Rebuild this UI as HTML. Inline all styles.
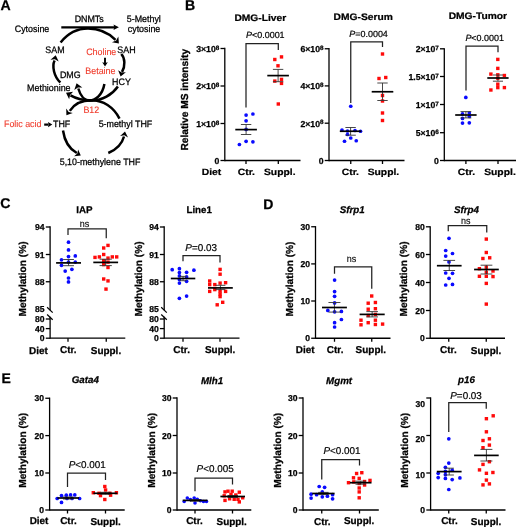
<!DOCTYPE html>
<html><head><meta charset="utf-8"><style>
html,body{margin:0;padding:0;background:#fff;}
svg{display:block;font-family:"Liberation Sans", sans-serif;filter:blur(0.3px);}
text{text-rendering:geometricPrecision;}
</style></head><body>
<svg width="520" height="527" viewBox="0 0 520 527">
<rect width="520" height="527" fill="#fff"/>
<text id="xLA" transform="translate(0.5 10.2)" text-anchor="start" fill="#000" style="font-size:14.1px;font-weight:bold;stroke:#000;stroke-width:0.25px;">A</text>
<text id="xLB" transform="translate(185.1 10.4)" text-anchor="start" fill="#000" style="font-size:14.1px;font-weight:bold;stroke:#000;stroke-width:0.25px;">B</text>
<text id="xLC" transform="translate(0.2 208.0)" text-anchor="start" fill="#000" style="font-size:14.1px;font-weight:bold;stroke:#000;stroke-width:0.25px;">C</text>
<text id="xLD" transform="translate(263.2 208.5)" text-anchor="start" fill="#000" style="font-size:14.0px;font-weight:bold;stroke:#000;stroke-width:0.25px;">D</text>
<text id="xLE" transform="translate(1.5 382.7)" text-anchor="start" fill="#000" style="font-size:14.0px;font-weight:bold;stroke:#000;stroke-width:0.25px;">E</text>
<text id="a_cyt" transform="translate(14.77 31.76) scale(1 1.06)" text-anchor="start" fill="#000" style="font-size:8.9px;font-weight:normal;stroke:#000;stroke-width:0.25px;">Cytosine</text>
<text id="a_dnmt" transform="translate(74.66 22.23) scale(1 1.06)" text-anchor="start" fill="#000" style="font-size:8.9px;font-weight:normal;stroke:#000;stroke-width:0.25px;">DNMTs</text>
<text id="a_5m" transform="translate(126.81 21.94) scale(1 1.06)" text-anchor="start" fill="#000" style="font-size:8.9px;font-weight:normal;stroke:#000;stroke-width:0.25px;">5-Methyl</text>
<text id="a_cyt2" transform="translate(127.75 32.26) scale(1 1.06)" text-anchor="start" fill="#000" style="font-size:8.9px;font-weight:normal;stroke:#000;stroke-width:0.25px;">cytosine</text>
<text id="a_sam" transform="translate(45.29 52.56) scale(1 1.06)" text-anchor="start" fill="#000" style="font-size:8.9px;font-weight:normal;stroke:#000;stroke-width:0.25px;">SAM</text>
<text id="a_sah" transform="translate(117.33 52.79) scale(1 1.06)" text-anchor="start" fill="#000" style="font-size:8.9px;font-weight:normal;stroke:#000;stroke-width:0.25px;">SAH</text>
<text id="a_chol" transform="translate(86.17 54.59) scale(1 1.06)" text-anchor="start" fill="#f03a2a" style="font-size:8.9px;font-weight:normal;stroke:#f03a2a;stroke-width:0.1px;">Choline</text>
<text id="a_bet" transform="translate(85.32 73.9) scale(1 1.06)" text-anchor="start" fill="#f03a2a" style="font-size:8.9px;font-weight:normal;stroke:#f03a2a;stroke-width:0.1px;">Betaine</text>
<text id="a_dmg" transform="translate(59.91 77.8) scale(1 1.06)" text-anchor="start" fill="#000" style="font-size:8.9px;font-weight:normal;stroke:#000;stroke-width:0.25px;">DMG</text>
<text id="a_hcy" transform="translate(112.08 84.59) scale(1 1.06)" text-anchor="start" fill="#000" style="font-size:8.9px;font-weight:normal;stroke:#000;stroke-width:0.25px;">HCY</text>
<text id="a_met" transform="translate(27.12 91.05) scale(1 1.06)" text-anchor="start" fill="#000" style="font-size:8.9px;font-weight:normal;stroke:#000;stroke-width:0.25px;">Methionine</text>
<text id="a_b12" transform="translate(83.39 112.6) scale(1 1.06)" text-anchor="start" fill="#f03a2a" style="font-size:8.9px;font-weight:normal;stroke:#f03a2a;stroke-width:0.1px;">B12</text>
<text id="a_fol" transform="translate(3.98 127.38) scale(1 1.06)" text-anchor="start" fill="#f03a2a" style="font-size:8.9px;font-weight:normal;stroke:#f03a2a;stroke-width:0.1px;">Folic acid</text>
<text id="a_thf" transform="translate(53.0 127.23) scale(1 1.06)" text-anchor="start" fill="#000" style="font-size:8.9px;font-weight:normal;stroke:#000;stroke-width:0.25px;">THF</text>
<text id="a_5mthf" transform="translate(98.64 127.41) scale(1 1.06)" text-anchor="start" fill="#000" style="font-size:8.9px;font-weight:normal;stroke:#000;stroke-width:0.25px;">5-methyl THF</text>
<text id="a_510" transform="translate(59.7 165.47) scale(1 1.06)" text-anchor="start" fill="#000" style="font-size:8.9px;font-weight:normal;stroke:#000;stroke-width:0.25px;">5,10-methylene THF</text>
<line x1="61.3" y1="27.3" x2="115" y2="27.3" stroke="#000" stroke-width="2.3"/>
<polygon points="118.90,27.30 113.50,30.10 114.30,27.30 113.50,24.50" fill="#000"/>
<path d="M60.6 42.5 C67 34.5 77 28.6 88 28.6 C100 28.6 109 33.5 115.5 39.8" stroke="#000" stroke-width="2.5" fill="none" />
<polygon points="118.90,43.60 111.96,42.32 116.16,40.55 118.35,36.56" fill="#000"/>
<path d="M121.3 54 C125 58 125.5 66 122 72" stroke="#000" stroke-width="2.5" fill="none" />
<polygon points="120.60,76.40 118.13,70.15 121.64,72.54 125.86,72.22" fill="#000"/>
<path d="M60.4 82.5 C54 77 51.8 66 54.6 60.5" stroke="#000" stroke-width="2.5" fill="none" />
<polygon points="55.70,55.30 58.69,61.46 54.87,59.21 50.47,59.71" fill="#000"/>
<line x1="105" y1="57.7" x2="105" y2="63" stroke="#000" stroke-width="1.9"/>
<polygon points="105.00,66.60 102.20,62.30 105.00,62.90 107.80,62.30" fill="#000"/>
<path d="M104.4 84 C102.5 95 95.5 100.4 89.5 100.4 C84 100.4 80.5 96 78.3 88.5" stroke="#000" stroke-width="2.5" fill="none" />
<polygon points="76.60,83.20 82.31,87.52 77.94,87.60 74.28,89.97" fill="#000"/>
<path d="M117.9 86.5 C112 95 102 100.4 92 100.4 C83 100.4 76 98.5 70.5 95.3" stroke="#000" stroke-width="2.5" fill="none" />
<polygon points="66.00,92.80 73.09,91.81 70.06,94.96 69.15,99.23" fill="#000"/>
<path d="M119.5 118.6 C113.5 107 103 100.2 91.5 100.2 C81 100.2 73.5 105 69.8 110.8" stroke="#000" stroke-width="2.5" fill="none" />
<polygon points="66.40,115.20 66.22,108.48 68.69,111.92 72.77,113.07" fill="#000"/>
<line x1="44.2" y1="124.6" x2="48.5" y2="124.6" stroke="#000" stroke-width="2.2"/>
<polygon points="52.30,124.60 48.00,127.30 48.60,124.60 48.00,121.90" fill="#000"/>
<path d="M63 130.5 C64.5 141 69.5 149 76.8 153" stroke="#000" stroke-width="2.5" fill="none" />
<polygon points="80.80,155.60 74.12,156.36 77.34,153.60 78.12,149.44" fill="#000"/>
<path d="M108.3 153 C115.5 150 122 144 124 136.5" stroke="#000" stroke-width="2.5" fill="none" />
<polygon points="125.00,131.40 128.00,137.41 124.31,135.34 120.12,136.02" fill="#000"/>
<text id="t_liver" transform="translate(260.32 20.58) scale(1 0.92)" text-anchor="middle" fill="#000" style="font-size:10.25px;font-weight:bold;stroke:#000;stroke-width:0.25px;">DMG-Liver</text>
<text id="t_serum" transform="translate(363.16 20.34) scale(1 0.92)" text-anchor="middle" fill="#000" style="font-size:10.25px;font-weight:bold;stroke:#000;stroke-width:0.25px;">DMG-Serum</text>
<text id="t_tumor" transform="translate(477.88 19.44) scale(1 0.92)" text-anchor="middle" fill="#000" style="font-size:10.25px;font-weight:bold;stroke:#000;stroke-width:0.25px;">DMG-Tumor</text>
<text id="y_rel" transform="translate(188.38 99.76) rotate(-90)" text-anchor="middle" fill="#000" style="font-size:10.17px;font-weight:bold;stroke:#000;stroke-width:0.3px;">Relative MS intensity</text>
<text id="dietB" transform="translate(201.68 174.93) scale(1 0.88)" text-anchor="start" fill="#000" style="font-size:10.35px;font-weight:bold;stroke:#000;stroke-width:0.25px;">Diet</text>
<line x1="224.8" y1="47.85" x2="224.8" y2="161.15" stroke="#000" stroke-width="1.3"/>
<line x1="220.5" y1="48.5" x2="224.8" y2="48.5" stroke="#000" stroke-width="1.3"/>
<text id="auto26" transform="translate(219.3 51.8)" text-anchor="end" fill="#000" style="font-size:8.7px;font-weight:bold;stroke:#000;stroke-width:0.25px;">3×10<tspan dy="-2.2" style="font-size:6.3px">8</tspan></text>
<line x1="220.5" y1="86" x2="224.8" y2="86" stroke="#000" stroke-width="1.3"/>
<text id="auto27" transform="translate(219.3 89.3)" text-anchor="end" fill="#000" style="font-size:8.7px;font-weight:bold;stroke:#000;stroke-width:0.25px;">2×10<tspan dy="-2.2" style="font-size:6.3px">8</tspan></text>
<line x1="220.5" y1="123.5" x2="224.8" y2="123.5" stroke="#000" stroke-width="1.3"/>
<text id="auto28" transform="translate(219.3 126.8)" text-anchor="end" fill="#000" style="font-size:8.7px;font-weight:bold;stroke:#000;stroke-width:0.25px;">1×10<tspan dy="-2.2" style="font-size:6.3px">8</tspan></text>
<line x1="220.5" y1="160.5" x2="224.8" y2="160.5" stroke="#000" stroke-width="1.3"/>
<text id="auto29" transform="translate(219.3 163.8)" text-anchor="end" fill="#000" style="font-size:8.7px;font-weight:bold;stroke:#000;stroke-width:0.25px;">0</text>
<line x1="224.8" y1="160.5" x2="300.5" y2="160.5" stroke="#000" stroke-width="1.3"/>
<line x1="246" y1="160.5" x2="246" y2="164.0" stroke="#000" stroke-width="1.3"/>
<line x1="278.3" y1="160.5" x2="278.3" y2="164.0" stroke="#000" stroke-width="1.3"/>
<text id="cl_liver_c" transform="translate(246.38 174.6) scale(1 0.88)" text-anchor="middle" fill="#000" style="font-size:10.35px;font-weight:bold;stroke:#000;stroke-width:0.25px;">Ctr.</text>
<text id="cl_liver_s" transform="translate(279.71 175.11) scale(1 0.88)" text-anchor="middle" fill="#000" style="font-size:10.35px;font-weight:bold;stroke:#000;stroke-width:0.25px;">Suppl.</text>
<path d="M246 107.5 V43.7 H278.3 V50" stroke="#222" stroke-width="1.25" fill="none" />
<text id="p_liver" transform="translate(265.31 38.22)" text-anchor="middle" fill="#000" style="font-size:8.95px;font-weight:normal;stroke:#000;stroke-width:0.2px;"><tspan style="font-style:italic">P</tspan>&lt;0.0001</text>
<circle cx="246.1" cy="115.1" r="1.85" fill="#0a0aff"/>
<circle cx="252.9" cy="114" r="1.85" fill="#0a0aff"/>
<circle cx="246.1" cy="120.8" r="1.85" fill="#0a0aff"/>
<circle cx="246.1" cy="129.4" r="1.85" fill="#0a0aff"/>
<circle cx="239.4" cy="144.5" r="1.85" fill="#0a0aff"/>
<circle cx="246.1" cy="141.3" r="1.85" fill="#0a0aff"/>
<circle cx="252.9" cy="141.8" r="1.85" fill="#0a0aff"/>
<line x1="246.1" y1="124.5" x2="246.1" y2="134.5" stroke="#333" stroke-width="0.9"/>
<line x1="240.9" y1="124.5" x2="251.29999999999998" y2="124.5" stroke="#333" stroke-width="0.9"/>
<line x1="240.9" y1="134.5" x2="251.29999999999998" y2="134.5" stroke="#333" stroke-width="0.9"/>
<line x1="235.29999999999998" y1="129.6" x2="256.9" y2="129.6" stroke="#000" stroke-width="1.7"/>
<rect x="273.10" y="57.80" width="3.4" height="3.4" fill="#ff0a0a"/>
<rect x="279.80" y="55.20" width="3.4" height="3.4" fill="#ff0a0a"/>
<rect x="276.30" y="64.10" width="3.4" height="3.4" fill="#ff0a0a"/>
<rect x="273.10" y="79.40" width="3.4" height="3.4" fill="#ff0a0a"/>
<rect x="279.80" y="77.70" width="3.4" height="3.4" fill="#ff0a0a"/>
<rect x="279.80" y="81.70" width="3.4" height="3.4" fill="#ff0a0a"/>
<rect x="276.60" y="102.30" width="3.4" height="3.4" fill="#ff0a0a"/>
<line x1="278.1" y1="69.4" x2="278.1" y2="81.7" stroke="#333" stroke-width="0.9"/>
<line x1="272.90000000000003" y1="69.4" x2="283.3" y2="69.4" stroke="#333" stroke-width="0.9"/>
<line x1="272.90000000000003" y1="81.7" x2="283.3" y2="81.7" stroke="#333" stroke-width="0.9"/>
<line x1="267.3" y1="75.6" x2="288.90000000000003" y2="75.6" stroke="#000" stroke-width="1.7"/>
<line x1="329" y1="48.1" x2="329" y2="161.15" stroke="#000" stroke-width="1.3"/>
<line x1="324.7" y1="48.75" x2="329" y2="48.75" stroke="#000" stroke-width="1.3"/>
<text id="auto33" transform="translate(323.5 52.05)" text-anchor="end" fill="#000" style="font-size:8.7px;font-weight:bold;stroke:#000;stroke-width:0.25px;">6×10<tspan dy="-2.2" style="font-size:6.3px">8</tspan></text>
<line x1="324.7" y1="85.9" x2="329" y2="85.9" stroke="#000" stroke-width="1.3"/>
<text id="auto34" transform="translate(323.5 89.2)" text-anchor="end" fill="#000" style="font-size:8.7px;font-weight:bold;stroke:#000;stroke-width:0.25px;">4×10<tspan dy="-2.2" style="font-size:6.3px">8</tspan></text>
<line x1="324.7" y1="123.2" x2="329" y2="123.2" stroke="#000" stroke-width="1.3"/>
<text id="auto35" transform="translate(323.5 126.5)" text-anchor="end" fill="#000" style="font-size:8.7px;font-weight:bold;stroke:#000;stroke-width:0.25px;">2×10<tspan dy="-2.2" style="font-size:6.3px">8</tspan></text>
<line x1="324.7" y1="160.5" x2="329" y2="160.5" stroke="#000" stroke-width="1.3"/>
<text id="auto36" transform="translate(323.5 163.8)" text-anchor="end" fill="#000" style="font-size:8.7px;font-weight:bold;stroke:#000;stroke-width:0.25px;">0</text>
<line x1="329" y1="160.5" x2="404.5" y2="160.5" stroke="#000" stroke-width="1.3"/>
<line x1="350.75" y1="160.5" x2="350.75" y2="164.0" stroke="#000" stroke-width="1.3"/>
<line x1="382.5" y1="160.5" x2="382.5" y2="164.0" stroke="#000" stroke-width="1.3"/>
<text id="cl_serum_c" transform="translate(350.36 174.6) scale(1 0.88)" text-anchor="middle" fill="#000" style="font-size:10.35px;font-weight:bold;stroke:#000;stroke-width:0.25px;">Ctr.</text>
<text id="cl_serum_s" transform="translate(383.44 175.24) scale(1 0.88)" text-anchor="middle" fill="#000" style="font-size:10.35px;font-weight:bold;stroke:#000;stroke-width:0.25px;">Suppl.</text>
<path d="M350.75 103 V41.75 H382.5 V47" stroke="#222" stroke-width="1.25" fill="none" />
<text id="p_serum" transform="translate(368.56 37.14)" text-anchor="middle" fill="#000" style="font-size:8.95px;font-weight:normal;stroke:#000;stroke-width:0.2px;"><tspan style="font-style:italic">P</tspan>=0.0004</text>
<circle cx="350.75" cy="106.25" r="1.85" fill="#0a0aff"/>
<circle cx="342" cy="130" r="1.85" fill="#0a0aff"/>
<circle cx="347.5" cy="131" r="1.85" fill="#0a0aff"/>
<circle cx="355" cy="130.5" r="1.85" fill="#0a0aff"/>
<circle cx="360.5" cy="131.25" r="1.85" fill="#0a0aff"/>
<circle cx="347.5" cy="134.5" r="1.85" fill="#0a0aff"/>
<circle cx="350.75" cy="138" r="1.85" fill="#0a0aff"/>
<circle cx="344.5" cy="141.25" r="1.85" fill="#0a0aff"/>
<circle cx="356.25" cy="140.75" r="1.85" fill="#0a0aff"/>
<line x1="350.6" y1="127.5" x2="350.6" y2="135.2" stroke="#333" stroke-width="0.9"/>
<line x1="345.40000000000003" y1="127.5" x2="355.8" y2="127.5" stroke="#333" stroke-width="0.9"/>
<line x1="345.40000000000003" y1="135.2" x2="355.8" y2="135.2" stroke="#333" stroke-width="0.9"/>
<line x1="339.8" y1="131.25" x2="361.40000000000003" y2="131.25" stroke="#000" stroke-width="1.7"/>
<rect x="380.80" y="52.30" width="3.4" height="3.4" fill="#ff0a0a"/>
<rect x="377.30" y="76.80" width="3.4" height="3.4" fill="#ff0a0a"/>
<rect x="384.05" y="75.80" width="3.4" height="3.4" fill="#ff0a0a"/>
<rect x="380.80" y="93.80" width="3.4" height="3.4" fill="#ff0a0a"/>
<rect x="380.80" y="99.30" width="3.4" height="3.4" fill="#ff0a0a"/>
<rect x="380.80" y="111.30" width="3.4" height="3.4" fill="#ff0a0a"/>
<rect x="380.80" y="118.80" width="3.4" height="3.4" fill="#ff0a0a"/>
<line x1="382.5" y1="83" x2="382.5" y2="100.5" stroke="#333" stroke-width="0.9"/>
<line x1="377.3" y1="83" x2="387.7" y2="83" stroke="#333" stroke-width="0.9"/>
<line x1="377.3" y1="100.5" x2="387.7" y2="100.5" stroke="#333" stroke-width="0.9"/>
<line x1="371.7" y1="91.75" x2="393.3" y2="91.75" stroke="#000" stroke-width="1.7"/>
<line x1="444.3" y1="48.15" x2="444.3" y2="161.15" stroke="#000" stroke-width="1.3"/>
<line x1="440.0" y1="48.8" x2="444.3" y2="48.8" stroke="#000" stroke-width="1.3"/>
<text id="auto40" transform="translate(438.8 52.1)" text-anchor="end" fill="#000" style="font-size:8.7px;font-weight:bold;stroke:#000;stroke-width:0.25px;">2×10<tspan dy="-2.2" style="font-size:6.3px">7</tspan></text>
<line x1="440.0" y1="76.5" x2="444.3" y2="76.5" stroke="#000" stroke-width="1.3"/>
<text id="auto41" transform="translate(438.8 79.8)" text-anchor="end" fill="#000" style="font-size:8.7px;font-weight:bold;stroke:#000;stroke-width:0.25px;">1.5×10<tspan dy="-2.2" style="font-size:6.3px">7</tspan></text>
<line x1="440.0" y1="104.5" x2="444.3" y2="104.5" stroke="#000" stroke-width="1.3"/>
<text id="auto42" transform="translate(438.8 107.8)" text-anchor="end" fill="#000" style="font-size:8.7px;font-weight:bold;stroke:#000;stroke-width:0.25px;">1×10<tspan dy="-2.2" style="font-size:6.3px">7</tspan></text>
<line x1="440.0" y1="132.7" x2="444.3" y2="132.7" stroke="#000" stroke-width="1.3"/>
<text id="auto43" transform="translate(438.8 136.0)" text-anchor="end" fill="#000" style="font-size:8.7px;font-weight:bold;stroke:#000;stroke-width:0.25px;">5×10<tspan dy="-2.2" style="font-size:6.3px">6</tspan></text>
<line x1="440.0" y1="160.5" x2="444.3" y2="160.5" stroke="#000" stroke-width="1.3"/>
<text id="auto44" transform="translate(438.8 163.8)" text-anchor="end" fill="#000" style="font-size:8.7px;font-weight:bold;stroke:#000;stroke-width:0.25px;">0</text>
<line x1="444.3" y1="160.5" x2="516" y2="160.5" stroke="#000" stroke-width="1.3"/>
<line x1="465.9" y1="160.5" x2="465.9" y2="164.0" stroke="#000" stroke-width="1.3"/>
<line x1="498" y1="160.5" x2="498" y2="164.0" stroke="#000" stroke-width="1.3"/>
<text id="cl_tumor_c" transform="translate(466.48 174.6) scale(1 0.88)" text-anchor="middle" fill="#000" style="font-size:10.35px;font-weight:bold;stroke:#000;stroke-width:0.25px;">Ctr.</text>
<text id="cl_tumor_s" transform="translate(499.95 174.83) scale(1 0.88)" text-anchor="middle" fill="#000" style="font-size:10.35px;font-weight:bold;stroke:#000;stroke-width:0.25px;">Suppl.</text>
<path d="M466 90.5 V46 H498 V52.3" stroke="#222" stroke-width="1.25" fill="none" />
<text id="p_tumor" transform="translate(484.67 41.02)" text-anchor="middle" fill="#000" style="font-size:8.95px;font-weight:normal;stroke:#000;stroke-width:0.2px;"><tspan style="font-style:italic">P</tspan>&lt;0.0001</text>
<circle cx="465.8" cy="97.4" r="1.85" fill="#0a0aff"/>
<circle cx="462.5" cy="113.9" r="1.85" fill="#0a0aff"/>
<circle cx="469.3" cy="113" r="1.85" fill="#0a0aff"/>
<circle cx="462.5" cy="118.4" r="1.85" fill="#0a0aff"/>
<circle cx="469.3" cy="116.5" r="1.85" fill="#0a0aff"/>
<circle cx="462.5" cy="123.1" r="1.85" fill="#0a0aff"/>
<circle cx="469.3" cy="122.8" r="1.85" fill="#0a0aff"/>
<line x1="465.9" y1="111.6" x2="465.9" y2="117.9" stroke="#333" stroke-width="0.9"/>
<line x1="460.5" y1="111.6" x2="471.29999999999995" y2="111.6" stroke="#333" stroke-width="0.9"/>
<line x1="460.5" y1="117.9" x2="471.29999999999995" y2="117.9" stroke="#333" stroke-width="0.9"/>
<line x1="455.2" y1="115" x2="476.59999999999997" y2="115" stroke="#000" stroke-width="1.7"/>
<rect x="496.10" y="57.70" width="3.4" height="3.4" fill="#ff0a0a"/>
<rect x="496.10" y="66.70" width="3.4" height="3.4" fill="#ff0a0a"/>
<rect x="489.20" y="72.40" width="3.4" height="3.4" fill="#ff0a0a"/>
<rect x="496.10" y="73.10" width="3.4" height="3.4" fill="#ff0a0a"/>
<rect x="502.70" y="73.80" width="3.4" height="3.4" fill="#ff0a0a"/>
<rect x="496.10" y="76.50" width="3.4" height="3.4" fill="#ff0a0a"/>
<rect x="496.10" y="82.50" width="3.4" height="3.4" fill="#ff0a0a"/>
<rect x="496.10" y="85.90" width="3.4" height="3.4" fill="#ff0a0a"/>
<rect x="502.70" y="85.90" width="3.4" height="3.4" fill="#ff0a0a"/>
<rect x="489.20" y="88.30" width="3.4" height="3.4" fill="#ff0a0a"/>
<line x1="497.95" y1="75" x2="497.95" y2="81.2" stroke="#333" stroke-width="0.9"/>
<line x1="492.9" y1="75" x2="503.0" y2="75" stroke="#333" stroke-width="0.9"/>
<line x1="492.9" y1="81.2" x2="503.0" y2="81.2" stroke="#333" stroke-width="0.9"/>
<line x1="487.3" y1="78" x2="508.59999999999997" y2="78" stroke="#000" stroke-width="1.7"/>
<text id="t_iap" transform="translate(84.4 212.78)" text-anchor="middle" fill="#000" style="font-size:9.75px;font-weight:bold;stroke:#000;stroke-width:0.25px;">IAP</text>
<text id="t_line1" transform="translate(199.18 213.04)" text-anchor="middle" fill="#000" style="font-size:9.75px;font-weight:bold;stroke:#000;stroke-width:0.25px;">Line1</text>
<text id="dietC" transform="translate(29.07 353.51)" text-anchor="start" fill="#000" style="font-size:9.95px;font-weight:bold;stroke:#000;stroke-width:0.25px;">Diet</text>
<line x1="50.1" y1="226.35" x2="50.1" y2="310.3" stroke="#000" stroke-width="1.3"/>
<line x1="50.1" y1="316.7" x2="50.1" y2="338.84999999999997" stroke="#000" stroke-width="1.3"/>
<line x1="47.1" y1="307.3" x2="52.7" y2="312.6" stroke="#000" stroke-width="1.2"/>
<line x1="47.1" y1="314.5" x2="52.7" y2="319.8" stroke="#000" stroke-width="1.2"/>
<line x1="45.800000000000004" y1="227" x2="50.1" y2="227" stroke="#000" stroke-width="1.3"/>
<text id="auto51" transform="translate(44.6 230.1)" text-anchor="end" fill="#000" style="font-size:8.6px;font-weight:bold;stroke:#000;stroke-width:0.25px;">94</text>
<line x1="45.800000000000004" y1="254.5" x2="50.1" y2="254.5" stroke="#000" stroke-width="1.3"/>
<text id="auto52" transform="translate(44.6 257.6)" text-anchor="end" fill="#000" style="font-size:8.6px;font-weight:bold;stroke:#000;stroke-width:0.25px;">91</text>
<line x1="45.800000000000004" y1="281.75" x2="50.1" y2="281.75" stroke="#000" stroke-width="1.3"/>
<text id="auto53" transform="translate(44.6 284.85)" text-anchor="end" fill="#000" style="font-size:8.6px;font-weight:bold;stroke:#000;stroke-width:0.25px;">88</text>
<line x1="45.800000000000004" y1="319" x2="50.1" y2="319" stroke="#000" stroke-width="1.3"/>
<text id="auto54" transform="translate(44.6 322.1)" text-anchor="end" fill="#000" style="font-size:8.6px;font-weight:bold;stroke:#000;stroke-width:0.25px;">80</text>
<line x1="45.800000000000004" y1="328.6" x2="50.1" y2="328.6" stroke="#000" stroke-width="1.3"/>
<text id="auto55" transform="translate(44.6 331.7)" text-anchor="end" fill="#000" style="font-size:8.6px;font-weight:bold;stroke:#000;stroke-width:0.25px;">40</text>
<text id="auto56" transform="translate(44.6 312.4)" text-anchor="end" fill="#000" style="font-size:8.6px;font-weight:bold;stroke:#000;stroke-width:0.25px;">85</text>
<text id="auto57" transform="translate(44.6 341.3)" text-anchor="end" fill="#000" style="font-size:8.6px;font-weight:bold;stroke:#000;stroke-width:0.25px;">0</text>
<line x1="45.800000000000004" y1="338.2" x2="50.1" y2="338.2" stroke="#000" stroke-width="1.3"/>
<line x1="50.1" y1="338.2" x2="125.3" y2="338.2" stroke="#000" stroke-width="1.3"/>
<line x1="68" y1="338.2" x2="68" y2="341.7" stroke="#000" stroke-width="1.3"/>
<line x1="106.25" y1="338.2" x2="106.25" y2="341.7" stroke="#000" stroke-width="1.3"/>
<text id="ml_iap" transform="translate(25.6 278.95) rotate(-90)" text-anchor="middle" fill="#000" style="font-size:10.17px;font-weight:bold;stroke:#000;stroke-width:0.25px;">Methylation (%)</text>
<text id="cl_iap_c" transform="translate(68.33 352.92)" text-anchor="middle" fill="#000" style="font-size:9.95px;font-weight:bold;stroke:#000;stroke-width:0.25px;">Ctr.</text>
<text id="cl_iap_s" transform="translate(105.97 353.56)" text-anchor="middle" fill="#000" style="font-size:9.95px;font-weight:bold;stroke:#000;stroke-width:0.25px;">Suppl.</text>
<path d="M68 235 V228.75 H106.25 V238.25" stroke="#222" stroke-width="1.25" fill="none" />
<text id="ns_iap" transform="translate(84.58 226.89) scale(1 1.08)" text-anchor="middle" fill="#000" style="font-size:9.0px;font-weight:normal;stroke:#000;stroke-width:0.1px;">ns</text>
<circle cx="68.5" cy="242.2" r="1.85" fill="#0a0aff"/>
<circle cx="68.5" cy="249.9" r="1.85" fill="#0a0aff"/>
<circle cx="68.5" cy="256.6" r="1.85" fill="#0a0aff"/>
<circle cx="75.3" cy="255.9" r="1.85" fill="#0a0aff"/>
<circle cx="61.5" cy="259.8" r="1.85" fill="#0a0aff"/>
<circle cx="68.5" cy="262.1" r="1.85" fill="#0a0aff"/>
<circle cx="75.3" cy="262.1" r="1.85" fill="#0a0aff"/>
<circle cx="61.5" cy="265.3" r="1.85" fill="#0a0aff"/>
<circle cx="65.2" cy="271.1" r="1.85" fill="#0a0aff"/>
<circle cx="71.9" cy="269.3" r="1.85" fill="#0a0aff"/>
<circle cx="68.5" cy="278" r="1.85" fill="#0a0aff"/>
<circle cx="68.5" cy="281.9" r="1.85" fill="#0a0aff"/>
<line x1="68.55" y1="259.5" x2="68.55" y2="265.7" stroke="#333" stroke-width="0.9"/>
<line x1="63.15" y1="259.5" x2="73.95" y2="259.5" stroke="#333" stroke-width="0.9"/>
<line x1="63.15" y1="265.7" x2="73.95" y2="265.7" stroke="#333" stroke-width="0.9"/>
<line x1="56.099999999999994" y1="262.9" x2="81.0" y2="262.9" stroke="#000" stroke-width="1.7"/>
<rect x="106.30" y="243.70" width="3.4" height="3.4" fill="#ff0a0a"/>
<rect x="102.00" y="246.30" width="3.4" height="3.4" fill="#ff0a0a"/>
<rect x="102.00" y="252.80" width="3.4" height="3.4" fill="#ff0a0a"/>
<rect x="93.30" y="255.70" width="3.4" height="3.4" fill="#ff0a0a"/>
<rect x="97.70" y="255.20" width="3.4" height="3.4" fill="#ff0a0a"/>
<rect x="106.30" y="256.40" width="3.4" height="3.4" fill="#ff0a0a"/>
<rect x="110.60" y="255.20" width="3.4" height="3.4" fill="#ff0a0a"/>
<rect x="115.00" y="255.20" width="3.4" height="3.4" fill="#ff0a0a"/>
<rect x="102.00" y="259.00" width="3.4" height="3.4" fill="#ff0a0a"/>
<rect x="106.30" y="260.40" width="3.4" height="3.4" fill="#ff0a0a"/>
<rect x="102.00" y="262.90" width="3.4" height="3.4" fill="#ff0a0a"/>
<rect x="106.30" y="265.80" width="3.4" height="3.4" fill="#ff0a0a"/>
<rect x="102.00" y="277.30" width="3.4" height="3.4" fill="#ff0a0a"/>
<rect x="106.30" y="279.20" width="3.4" height="3.4" fill="#ff0a0a"/>
<rect x="104.30" y="287.40" width="3.4" height="3.4" fill="#ff0a0a"/>
<line x1="105.7" y1="259.2" x2="105.7" y2="265.6" stroke="#333" stroke-width="0.9"/>
<line x1="99.60000000000001" y1="259.2" x2="111.8" y2="259.2" stroke="#333" stroke-width="0.9"/>
<line x1="99.60000000000001" y1="265.6" x2="111.8" y2="265.6" stroke="#333" stroke-width="0.9"/>
<line x1="93.3" y1="262.4" x2="118.10000000000001" y2="262.4" stroke="#000" stroke-width="1.7"/>
<line x1="164.2" y1="226.35" x2="164.2" y2="310.3" stroke="#000" stroke-width="1.3"/>
<line x1="164.2" y1="316.7" x2="164.2" y2="338.84999999999997" stroke="#000" stroke-width="1.3"/>
<line x1="161.2" y1="307.3" x2="166.79999999999998" y2="312.6" stroke="#000" stroke-width="1.2"/>
<line x1="161.2" y1="314.5" x2="166.79999999999998" y2="319.8" stroke="#000" stroke-width="1.2"/>
<line x1="159.89999999999998" y1="227" x2="164.2" y2="227" stroke="#000" stroke-width="1.3"/>
<text id="auto62" transform="translate(158.7 230.1)" text-anchor="end" fill="#000" style="font-size:8.6px;font-weight:bold;stroke:#000;stroke-width:0.25px;">94</text>
<line x1="159.89999999999998" y1="254.5" x2="164.2" y2="254.5" stroke="#000" stroke-width="1.3"/>
<text id="auto63" transform="translate(158.7 257.6)" text-anchor="end" fill="#000" style="font-size:8.6px;font-weight:bold;stroke:#000;stroke-width:0.25px;">91</text>
<line x1="159.89999999999998" y1="281.75" x2="164.2" y2="281.75" stroke="#000" stroke-width="1.3"/>
<text id="auto64" transform="translate(158.7 284.85)" text-anchor="end" fill="#000" style="font-size:8.6px;font-weight:bold;stroke:#000;stroke-width:0.25px;">88</text>
<line x1="159.89999999999998" y1="319" x2="164.2" y2="319" stroke="#000" stroke-width="1.3"/>
<text id="auto65" transform="translate(158.7 322.1)" text-anchor="end" fill="#000" style="font-size:8.6px;font-weight:bold;stroke:#000;stroke-width:0.25px;">80</text>
<line x1="159.89999999999998" y1="328.6" x2="164.2" y2="328.6" stroke="#000" stroke-width="1.3"/>
<text id="auto66" transform="translate(158.7 331.7)" text-anchor="end" fill="#000" style="font-size:8.6px;font-weight:bold;stroke:#000;stroke-width:0.25px;">40</text>
<text id="auto67" transform="translate(158.7 312.4)" text-anchor="end" fill="#000" style="font-size:8.6px;font-weight:bold;stroke:#000;stroke-width:0.25px;">85</text>
<text id="auto68" transform="translate(158.7 341.3)" text-anchor="end" fill="#000" style="font-size:8.6px;font-weight:bold;stroke:#000;stroke-width:0.25px;">0</text>
<line x1="159.89999999999998" y1="338.2" x2="164.2" y2="338.2" stroke="#000" stroke-width="1.3"/>
<line x1="164.2" y1="338.2" x2="239.5" y2="338.2" stroke="#000" stroke-width="1.3"/>
<line x1="183" y1="338.2" x2="183" y2="341.7" stroke="#000" stroke-width="1.3"/>
<line x1="220" y1="338.2" x2="220" y2="341.7" stroke="#000" stroke-width="1.3"/>
<text id="ml_line1" transform="translate(141.73 278.95) rotate(-90)" text-anchor="middle" fill="#000" style="font-size:10.17px;font-weight:bold;stroke:#000;stroke-width:0.25px;">Methylation (%)</text>
<text id="cl_line1_c" transform="translate(181.61 352.92)" text-anchor="middle" fill="#000" style="font-size:9.95px;font-weight:bold;stroke:#000;stroke-width:0.25px;">Ctr.</text>
<text id="cl_line1_s" transform="translate(220.16 353.26)" text-anchor="middle" fill="#000" style="font-size:9.95px;font-weight:bold;stroke:#000;stroke-width:0.25px;">Suppl.</text>
<path d="M183 261.25 V255.5 H220 V262.5" stroke="#222" stroke-width="1.25" fill="none" />
<text id="p_line1" transform="translate(201.11 251.04)" text-anchor="middle" fill="#000" style="font-size:9.9px;font-weight:normal;stroke:#000;stroke-width:0.2px;"><tspan style="font-style:italic">P</tspan>=0.03</text>
<circle cx="172.2" cy="269.7" r="1.85" fill="#0a0aff"/>
<circle cx="179.4" cy="268.7" r="1.85" fill="#0a0aff"/>
<circle cx="186.6" cy="272.3" r="1.85" fill="#0a0aff"/>
<circle cx="193.9" cy="270.2" r="1.85" fill="#0a0aff"/>
<circle cx="179.4" cy="272.6" r="1.85" fill="#0a0aff"/>
<circle cx="179.4" cy="275.9" r="1.85" fill="#0a0aff"/>
<circle cx="186.6" cy="276.9" r="1.85" fill="#0a0aff"/>
<circle cx="179.4" cy="279.5" r="1.85" fill="#0a0aff"/>
<circle cx="186.6" cy="281.3" r="1.85" fill="#0a0aff"/>
<circle cx="179.4" cy="283.1" r="1.85" fill="#0a0aff"/>
<circle cx="179.4" cy="298.3" r="1.85" fill="#0a0aff"/>
<circle cx="186.6" cy="296.1" r="1.85" fill="#0a0aff"/>
<line x1="183.05" y1="276.4" x2="183.05" y2="280.7" stroke="#333" stroke-width="0.9"/>
<line x1="179.45000000000002" y1="276.4" x2="186.65" y2="276.4" stroke="#333" stroke-width="0.9"/>
<line x1="179.45000000000002" y1="280.7" x2="186.65" y2="280.7" stroke="#333" stroke-width="0.9"/>
<line x1="170.8" y1="278.5" x2="195.3" y2="278.5" stroke="#000" stroke-width="1.7"/>
<rect x="218.40" y="267.70" width="3.4" height="3.4" fill="#ff0a0a"/>
<rect x="218.40" y="272.50" width="3.4" height="3.4" fill="#ff0a0a"/>
<rect x="208.00" y="279.30" width="3.4" height="3.4" fill="#ff0a0a"/>
<rect x="208.00" y="282.90" width="3.4" height="3.4" fill="#ff0a0a"/>
<rect x="213.10" y="282.90" width="3.4" height="3.4" fill="#ff0a0a"/>
<rect x="218.40" y="281.40" width="3.4" height="3.4" fill="#ff0a0a"/>
<rect x="223.90" y="281.00" width="3.4" height="3.4" fill="#ff0a0a"/>
<rect x="208.00" y="289.70" width="3.4" height="3.4" fill="#ff0a0a"/>
<rect x="213.10" y="287.90" width="3.4" height="3.4" fill="#ff0a0a"/>
<rect x="218.40" y="289.40" width="3.4" height="3.4" fill="#ff0a0a"/>
<rect x="223.90" y="289.70" width="3.4" height="3.4" fill="#ff0a0a"/>
<rect x="218.40" y="292.30" width="3.4" height="3.4" fill="#ff0a0a"/>
<rect x="218.40" y="294.90" width="3.4" height="3.4" fill="#ff0a0a"/>
<rect x="221.00" y="300.60" width="3.4" height="3.4" fill="#ff0a0a"/>
<rect x="215.50" y="303.10" width="3.4" height="3.4" fill="#ff0a0a"/>
<line x1="220.4" y1="285.3" x2="220.4" y2="289.6" stroke="#333" stroke-width="0.9"/>
<line x1="215.4" y1="285.3" x2="225.4" y2="285.3" stroke="#333" stroke-width="0.9"/>
<line x1="215.4" y1="289.6" x2="225.4" y2="289.6" stroke="#333" stroke-width="0.9"/>
<line x1="208.0" y1="287.9" x2="232.8" y2="287.9" stroke="#000" stroke-width="1.7"/>
<text id="t_sfrp1" transform="translate(352.14 212.63)" text-anchor="middle" fill="#000" style="font-size:9.75px;font-weight:bold;font-style:italic;stroke:#000;stroke-width:0.25px;">Sfrp1</text>
<text id="t_sfrp4" transform="translate(466.48 212.55)" text-anchor="middle" fill="#000" style="font-size:9.75px;font-weight:bold;font-style:italic;stroke:#000;stroke-width:0.25px;">Sfrp4</text>
<text id="dietD" transform="translate(295.75 353.31)" text-anchor="start" fill="#000" style="font-size:9.95px;font-weight:bold;stroke:#000;stroke-width:0.25px;">Diet</text>
<line x1="315.5" y1="226.1" x2="315.5" y2="338.9" stroke="#000" stroke-width="1.3"/>
<line x1="311.2" y1="226.75" x2="315.5" y2="226.75" stroke="#000" stroke-width="1.3"/>
<text id="auto76" transform="translate(310.0 229.85)" text-anchor="end" fill="#000" style="font-size:8.6px;font-weight:bold;stroke:#000;stroke-width:0.25px;">30</text>
<line x1="311.2" y1="263.9" x2="315.5" y2="263.9" stroke="#000" stroke-width="1.3"/>
<text id="auto77" transform="translate(310.0 267.0)" text-anchor="end" fill="#000" style="font-size:8.6px;font-weight:bold;stroke:#000;stroke-width:0.25px;">20</text>
<line x1="311.2" y1="301" x2="315.5" y2="301" stroke="#000" stroke-width="1.3"/>
<text id="auto78" transform="translate(310.0 304.1)" text-anchor="end" fill="#000" style="font-size:8.6px;font-weight:bold;stroke:#000;stroke-width:0.25px;">10</text>
<line x1="311.2" y1="338.25" x2="315.5" y2="338.25" stroke="#000" stroke-width="1.3"/>
<text id="auto79" transform="translate(310.0 341.35)" text-anchor="end" fill="#000" style="font-size:8.6px;font-weight:bold;stroke:#000;stroke-width:0.25px;">0</text>
<line x1="315.5" y1="338.25" x2="390.5" y2="338.25" stroke="#000" stroke-width="1.3"/>
<line x1="334.5" y1="338.25" x2="334.5" y2="341.75" stroke="#000" stroke-width="1.3"/>
<line x1="371.75" y1="338.25" x2="371.75" y2="341.75" stroke="#000" stroke-width="1.3"/>
<text id="ml_sfrp1" transform="translate(292.66 279.05) rotate(-90)" text-anchor="middle" fill="#000" style="font-size:10.17px;font-weight:bold;stroke:#000;stroke-width:0.25px;">Methylation (%)</text>
<text id="cl_sfrp1_c" transform="translate(335.12 352.92)" text-anchor="middle" fill="#000" style="font-size:9.95px;font-weight:bold;stroke:#000;stroke-width:0.25px;">Ctr.</text>
<text id="cl_sfrp1_s" transform="translate(370.8 352.5)" text-anchor="middle" fill="#000" style="font-size:9.95px;font-weight:bold;stroke:#000;stroke-width:0.25px;">Suppl.</text>
<path d="M334.5 273.75 V266.75 H371.75 V288.75" stroke="#222" stroke-width="1.25" fill="none" />
<text id="ns_sfrp1" transform="translate(351.57 261.72) scale(1 1.08)" text-anchor="middle" fill="#000" style="font-size:9.0px;font-weight:normal;stroke:#000;stroke-width:0.1px;">ns</text>
<circle cx="334.6" cy="280.1" r="1.85" fill="#0a0aff"/>
<circle cx="334.6" cy="291.6" r="1.85" fill="#0a0aff"/>
<circle cx="334.6" cy="296.3" r="1.85" fill="#0a0aff"/>
<circle cx="334.6" cy="302.9" r="1.85" fill="#0a0aff"/>
<circle cx="327.8" cy="310.4" r="1.85" fill="#0a0aff"/>
<circle cx="334.6" cy="311.8" r="1.85" fill="#0a0aff"/>
<circle cx="341.4" cy="311.4" r="1.85" fill="#0a0aff"/>
<circle cx="341.4" cy="319.5" r="1.85" fill="#0a0aff"/>
<circle cx="334.6" cy="322.7" r="1.85" fill="#0a0aff"/>
<circle cx="334.6" cy="327" r="1.85" fill="#0a0aff"/>
<line x1="334.45" y1="302.5" x2="334.45" y2="312.1" stroke="#333" stroke-width="0.9"/>
<line x1="328.45" y1="302.5" x2="340.45" y2="302.5" stroke="#333" stroke-width="0.9"/>
<line x1="328.45" y1="312.1" x2="340.45" y2="312.1" stroke="#333" stroke-width="0.9"/>
<line x1="322.0" y1="307.5" x2="346.9" y2="307.5" stroke="#000" stroke-width="1.7"/>
<rect x="370.00" y="294.30" width="3.4" height="3.4" fill="#ff0a0a"/>
<rect x="366.50" y="301.50" width="3.4" height="3.4" fill="#ff0a0a"/>
<rect x="373.70" y="300.80" width="3.4" height="3.4" fill="#ff0a0a"/>
<rect x="366.50" y="307.50" width="3.4" height="3.4" fill="#ff0a0a"/>
<rect x="373.70" y="307.00" width="3.4" height="3.4" fill="#ff0a0a"/>
<rect x="366.50" y="313.80" width="3.4" height="3.4" fill="#ff0a0a"/>
<rect x="373.70" y="312.70" width="3.4" height="3.4" fill="#ff0a0a"/>
<rect x="359.30" y="318.50" width="3.4" height="3.4" fill="#ff0a0a"/>
<rect x="373.70" y="318.50" width="3.4" height="3.4" fill="#ff0a0a"/>
<rect x="359.30" y="323.10" width="3.4" height="3.4" fill="#ff0a0a"/>
<rect x="366.50" y="321.00" width="3.4" height="3.4" fill="#ff0a0a"/>
<rect x="373.70" y="322.80" width="3.4" height="3.4" fill="#ff0a0a"/>
<rect x="380.90" y="322.40" width="3.4" height="3.4" fill="#ff0a0a"/>
<line x1="372.15" y1="311.6" x2="372.15" y2="316.9" stroke="#333" stroke-width="0.9"/>
<line x1="366.34999999999997" y1="311.6" x2="377.95" y2="311.6" stroke="#333" stroke-width="0.9"/>
<line x1="366.34999999999997" y1="316.9" x2="377.95" y2="316.9" stroke="#333" stroke-width="0.9"/>
<line x1="359.59999999999997" y1="314.4" x2="384.7" y2="314.4" stroke="#000" stroke-width="1.7"/>
<line x1="430.2" y1="226.15" x2="430.2" y2="338.9" stroke="#000" stroke-width="1.3"/>
<line x1="425.9" y1="226.8" x2="430.2" y2="226.8" stroke="#000" stroke-width="1.3"/>
<text id="auto84" transform="translate(424.7 229.9)" text-anchor="end" fill="#000" style="font-size:8.6px;font-weight:bold;stroke:#000;stroke-width:0.25px;">80</text>
<line x1="425.9" y1="254.5" x2="430.2" y2="254.5" stroke="#000" stroke-width="1.3"/>
<text id="auto85" transform="translate(424.7 257.6)" text-anchor="end" fill="#000" style="font-size:8.6px;font-weight:bold;stroke:#000;stroke-width:0.25px;">60</text>
<line x1="425.9" y1="282.5" x2="430.2" y2="282.5" stroke="#000" stroke-width="1.3"/>
<text id="auto86" transform="translate(424.7 285.6)" text-anchor="end" fill="#000" style="font-size:8.6px;font-weight:bold;stroke:#000;stroke-width:0.25px;">40</text>
<line x1="425.9" y1="310.5" x2="430.2" y2="310.5" stroke="#000" stroke-width="1.3"/>
<text id="auto87" transform="translate(424.7 313.6)" text-anchor="end" fill="#000" style="font-size:8.6px;font-weight:bold;stroke:#000;stroke-width:0.25px;">20</text>
<line x1="425.9" y1="338.25" x2="430.2" y2="338.25" stroke="#000" stroke-width="1.3"/>
<text id="auto88" transform="translate(424.7 341.35)" text-anchor="end" fill="#000" style="font-size:8.6px;font-weight:bold;stroke:#000;stroke-width:0.25px;">0</text>
<line x1="430.2" y1="338.25" x2="505" y2="338.25" stroke="#000" stroke-width="1.3"/>
<line x1="448.75" y1="338.25" x2="448.75" y2="341.75" stroke="#000" stroke-width="1.3"/>
<line x1="486.25" y1="338.25" x2="486.25" y2="341.75" stroke="#000" stroke-width="1.3"/>
<text id="ml_sfrp4" transform="translate(406.71 278.95) rotate(-90)" text-anchor="middle" fill="#000" style="font-size:10.17px;font-weight:bold;stroke:#000;stroke-width:0.25px;">Methylation (%)</text>
<text id="cl_sfrp4_c" transform="translate(448.36 352.92)" text-anchor="middle" fill="#000" style="font-size:9.95px;font-weight:bold;stroke:#000;stroke-width:0.25px;">Ctr.</text>
<text id="cl_sfrp4_s" transform="translate(486.05 353.56)" text-anchor="middle" fill="#000" style="font-size:9.95px;font-weight:bold;stroke:#000;stroke-width:0.25px;">Suppl.</text>
<path d="M448.25 231.25 V225.5 H486.75 V232.5" stroke="#222" stroke-width="1.25" fill="none" />
<text id="ns_sfrp4" transform="translate(465.8 223.92) scale(1 1.08)" text-anchor="middle" fill="#000" style="font-size:9.0px;font-weight:normal;stroke:#000;stroke-width:0.1px;">ns</text>
<circle cx="449" cy="238.3" r="1.85" fill="#0a0aff"/>
<circle cx="445.7" cy="250.5" r="1.85" fill="#0a0aff"/>
<circle cx="452.5" cy="253.5" r="1.85" fill="#0a0aff"/>
<circle cx="445.7" cy="256.1" r="1.85" fill="#0a0aff"/>
<circle cx="449" cy="261.9" r="1.85" fill="#0a0aff"/>
<circle cx="445.7" cy="273" r="1.85" fill="#0a0aff"/>
<circle cx="452.5" cy="273.3" r="1.85" fill="#0a0aff"/>
<circle cx="449" cy="278.3" r="1.85" fill="#0a0aff"/>
<circle cx="445.7" cy="285" r="1.85" fill="#0a0aff"/>
<circle cx="452.5" cy="284.4" r="1.85" fill="#0a0aff"/>
<line x1="449.25" y1="260.4" x2="449.25" y2="270.5" stroke="#333" stroke-width="0.9"/>
<line x1="443.4" y1="260.4" x2="455.1" y2="260.4" stroke="#333" stroke-width="0.9"/>
<line x1="443.4" y1="270.5" x2="455.1" y2="270.5" stroke="#333" stroke-width="0.9"/>
<line x1="436.9" y1="265.7" x2="461.6" y2="265.7" stroke="#000" stroke-width="1.7"/>
<rect x="484.60" y="237.40" width="3.4" height="3.4" fill="#ff0a0a"/>
<rect x="484.60" y="250.80" width="3.4" height="3.4" fill="#ff0a0a"/>
<rect x="481.20" y="256.80" width="3.4" height="3.4" fill="#ff0a0a"/>
<rect x="488.00" y="256.10" width="3.4" height="3.4" fill="#ff0a0a"/>
<rect x="484.60" y="265.50" width="3.4" height="3.4" fill="#ff0a0a"/>
<rect x="477.70" y="267.00" width="3.4" height="3.4" fill="#ff0a0a"/>
<rect x="491.30" y="269.30" width="3.4" height="3.4" fill="#ff0a0a"/>
<rect x="484.60" y="270.50" width="3.4" height="3.4" fill="#ff0a0a"/>
<rect x="477.70" y="274.60" width="3.4" height="3.4" fill="#ff0a0a"/>
<rect x="484.60" y="274.60" width="3.4" height="3.4" fill="#ff0a0a"/>
<rect x="491.30" y="274.90" width="3.4" height="3.4" fill="#ff0a0a"/>
<rect x="484.60" y="281.70" width="3.4" height="3.4" fill="#ff0a0a"/>
<rect x="484.60" y="302.40" width="3.4" height="3.4" fill="#ff0a0a"/>
<line x1="486.45" y1="265.2" x2="486.45" y2="274" stroke="#333" stroke-width="0.9"/>
<line x1="480.55" y1="265.2" x2="492.34999999999997" y2="265.2" stroke="#333" stroke-width="0.9"/>
<line x1="480.55" y1="274" x2="492.34999999999997" y2="274" stroke="#333" stroke-width="0.9"/>
<line x1="474.09999999999997" y1="269.5" x2="498.8" y2="269.5" stroke="#000" stroke-width="1.7"/>
<text id="t_gata4" transform="translate(85.25 383.3)" text-anchor="middle" fill="#000" style="font-size:9.75px;font-weight:bold;font-style:italic;stroke:#000;stroke-width:0.25px;">Gata4</text>
<text id="t_mlh1" transform="translate(212.03 383.74)" text-anchor="middle" fill="#000" style="font-size:9.75px;font-weight:bold;font-style:italic;stroke:#000;stroke-width:0.25px;">Mlh1</text>
<text id="t_mgmt" transform="translate(339.1 383.98)" text-anchor="middle" fill="#000" style="font-size:9.75px;font-weight:bold;font-style:italic;stroke:#000;stroke-width:0.25px;">Mgmt</text>
<text id="t_p16" transform="translate(466.46 383.32)" text-anchor="middle" fill="#000" style="font-size:9.75px;font-weight:bold;font-style:italic;stroke:#000;stroke-width:0.25px;">p16</text>
<text id="dietE" transform="translate(29.66 524.29)" text-anchor="start" fill="#000" style="font-size:9.95px;font-weight:bold;stroke:#000;stroke-width:0.25px;">Diet</text>
<line x1="49.6" y1="397.6" x2="49.6" y2="510.65" stroke="#000" stroke-width="1.3"/>
<line x1="45.300000000000004" y1="398.25" x2="49.6" y2="398.25" stroke="#000" stroke-width="1.3"/>
<text id="auto98" transform="translate(44.1 401.35)" text-anchor="end" fill="#000" style="font-size:8.6px;font-weight:bold;stroke:#000;stroke-width:0.25px;">30</text>
<line x1="45.300000000000004" y1="435.6" x2="49.6" y2="435.6" stroke="#000" stroke-width="1.3"/>
<text id="auto99" transform="translate(44.1 438.7)" text-anchor="end" fill="#000" style="font-size:8.6px;font-weight:bold;stroke:#000;stroke-width:0.25px;">20</text>
<line x1="45.300000000000004" y1="473" x2="49.6" y2="473" stroke="#000" stroke-width="1.3"/>
<text id="auto100" transform="translate(44.1 476.1)" text-anchor="end" fill="#000" style="font-size:8.6px;font-weight:bold;stroke:#000;stroke-width:0.25px;">10</text>
<line x1="45.300000000000004" y1="510" x2="49.6" y2="510" stroke="#000" stroke-width="1.3"/>
<text id="auto101" transform="translate(44.1 513.1)" text-anchor="end" fill="#000" style="font-size:8.6px;font-weight:bold;stroke:#000;stroke-width:0.25px;">0</text>
<line x1="49.6" y1="510" x2="124.7" y2="510" stroke="#000" stroke-width="1.3"/>
<line x1="67.5" y1="510" x2="67.5" y2="513.5" stroke="#000" stroke-width="1.3"/>
<line x1="105.5" y1="510" x2="105.5" y2="513.5" stroke="#000" stroke-width="1.3"/>
<text id="ml_gata4" transform="translate(26.44 450.29) rotate(-90)" text-anchor="middle" fill="#000" style="font-size:10.17px;font-weight:bold;stroke:#000;stroke-width:0.25px;">Methylation (%)</text>
<text id="cl_gata4_c" transform="translate(68.45 524.45)" text-anchor="middle" fill="#000" style="font-size:9.95px;font-weight:bold;stroke:#000;stroke-width:0.25px;">Ctr.</text>
<text id="cl_gata4_s" transform="translate(105.59 524.62)" text-anchor="middle" fill="#000" style="font-size:9.95px;font-weight:bold;stroke:#000;stroke-width:0.25px;">Suppl.</text>
<path d="M67.5 487 V473 H105.5 V480" stroke="#222" stroke-width="1.25" fill="none" />
<text id="p_gata4" transform="translate(87.23 467.79)" text-anchor="middle" fill="#000" style="font-size:9.9px;font-weight:normal;stroke:#000;stroke-width:0.2px;"><tspan style="font-style:italic">P</tspan>&lt;0.001</text>
<circle cx="61.5" cy="495.6" r="1.85" fill="#0a0aff"/>
<circle cx="66.3" cy="495.2" r="1.85" fill="#0a0aff"/>
<circle cx="70.6" cy="494.9" r="1.85" fill="#0a0aff"/>
<circle cx="74.8" cy="494.9" r="1.85" fill="#0a0aff"/>
<circle cx="57.2" cy="498.5" r="1.85" fill="#0a0aff"/>
<circle cx="79.6" cy="498.5" r="1.85" fill="#0a0aff"/>
<circle cx="61.5" cy="502.4" r="1.85" fill="#0a0aff"/>
<circle cx="67" cy="498.5" r="1.85" fill="#0a0aff"/>
<circle cx="72" cy="498.5" r="1.85" fill="#0a0aff"/>
<line x1="68.2" y1="497" x2="68.2" y2="499" stroke="#333" stroke-width="0.9"/>
<line x1="63.0" y1="497" x2="73.4" y2="497" stroke="#333" stroke-width="0.9"/>
<line x1="63.0" y1="499" x2="73.4" y2="499" stroke="#333" stroke-width="0.9"/>
<line x1="57.400000000000006" y1="498" x2="79.0" y2="498" stroke="#000" stroke-width="1.7"/>
<rect x="103.10" y="484.80" width="3.4" height="3.4" fill="#ff0a0a"/>
<rect x="103.90" y="488.30" width="3.4" height="3.4" fill="#ff0a0a"/>
<rect x="91.60" y="491.00" width="3.4" height="3.4" fill="#ff0a0a"/>
<rect x="114.70" y="491.00" width="3.4" height="3.4" fill="#ff0a0a"/>
<rect x="98.80" y="493.90" width="3.4" height="3.4" fill="#ff0a0a"/>
<rect x="108.90" y="493.50" width="3.4" height="3.4" fill="#ff0a0a"/>
<rect x="103.10" y="497.80" width="3.4" height="3.4" fill="#ff0a0a"/>
<rect x="97.30" y="491.60" width="3.4" height="3.4" fill="#ff0a0a"/>
<rect x="108.30" y="491.60" width="3.4" height="3.4" fill="#ff0a0a"/>
<line x1="105.4" y1="492.3" x2="105.4" y2="494.3" stroke="#333" stroke-width="0.9"/>
<line x1="100.2" y1="492.3" x2="110.60000000000001" y2="492.3" stroke="#333" stroke-width="0.9"/>
<line x1="100.2" y1="494.3" x2="110.60000000000001" y2="494.3" stroke="#333" stroke-width="0.9"/>
<line x1="93.4" y1="493.3" x2="117.4" y2="493.3" stroke="#000" stroke-width="1.7"/>
<line x1="177" y1="397.35" x2="177" y2="510.65" stroke="#000" stroke-width="1.3"/>
<line x1="172.7" y1="398" x2="177" y2="398" stroke="#000" stroke-width="1.3"/>
<text id="auto106" transform="translate(171.5 401.1)" text-anchor="end" fill="#000" style="font-size:8.6px;font-weight:bold;stroke:#000;stroke-width:0.25px;">30</text>
<line x1="172.7" y1="435.5" x2="177" y2="435.5" stroke="#000" stroke-width="1.3"/>
<text id="auto107" transform="translate(171.5 438.6)" text-anchor="end" fill="#000" style="font-size:8.6px;font-weight:bold;stroke:#000;stroke-width:0.25px;">20</text>
<line x1="172.7" y1="473" x2="177" y2="473" stroke="#000" stroke-width="1.3"/>
<text id="auto108" transform="translate(171.5 476.1)" text-anchor="end" fill="#000" style="font-size:8.6px;font-weight:bold;stroke:#000;stroke-width:0.25px;">10</text>
<line x1="172.7" y1="510" x2="177" y2="510" stroke="#000" stroke-width="1.3"/>
<text id="auto109" transform="translate(171.5 513.1)" text-anchor="end" fill="#000" style="font-size:8.6px;font-weight:bold;stroke:#000;stroke-width:0.25px;">0</text>
<line x1="177" y1="510" x2="251.3" y2="510" stroke="#000" stroke-width="1.3"/>
<line x1="195" y1="510" x2="195" y2="513.5" stroke="#000" stroke-width="1.3"/>
<line x1="232.5" y1="510" x2="232.5" y2="513.5" stroke="#000" stroke-width="1.3"/>
<text id="ml_mlh1" transform="translate(154.57 450.29) rotate(-90)" text-anchor="middle" fill="#000" style="font-size:10.17px;font-weight:bold;stroke:#000;stroke-width:0.25px;">Methylation (%)</text>
<text id="cl_mlh1_c" transform="translate(194.43 524.45)" text-anchor="middle" fill="#000" style="font-size:9.95px;font-weight:bold;stroke:#000;stroke-width:0.25px;">Ctr.</text>
<text id="cl_mlh1_s" transform="translate(231.69 524.8)" text-anchor="middle" fill="#000" style="font-size:9.95px;font-weight:bold;stroke:#000;stroke-width:0.25px;">Suppl.</text>
<path d="M195 491.25 V478 H232.5 V484.5" stroke="#222" stroke-width="1.25" fill="none" />
<text id="p_mlh1" transform="translate(215.13 471.62)" text-anchor="middle" fill="#000" style="font-size:9.9px;font-weight:normal;stroke:#000;stroke-width:0.2px;"><tspan style="font-style:italic">P</tspan>&lt;0.005</text>
<circle cx="184.2" cy="501.5" r="1.8" fill="#0a0aff"/>
<circle cx="187.3" cy="498" r="1.8" fill="#0a0aff"/>
<circle cx="190.4" cy="499.6" r="1.8" fill="#0a0aff"/>
<circle cx="194.2" cy="498" r="1.8" fill="#0a0aff"/>
<circle cx="195" cy="503" r="1.8" fill="#0a0aff"/>
<circle cx="197.3" cy="499.3" r="1.8" fill="#0a0aff"/>
<circle cx="200.4" cy="500.8" r="1.8" fill="#0a0aff"/>
<circle cx="203.5" cy="501.5" r="1.8" fill="#0a0aff"/>
<circle cx="206.5" cy="501.5" r="1.8" fill="#0a0aff"/>
<line x1="195.1" y1="499.6" x2="195.1" y2="501.2" stroke="#333" stroke-width="0.9"/>
<line x1="189.9" y1="499.6" x2="200.29999999999998" y2="499.6" stroke="#333" stroke-width="0.9"/>
<line x1="189.9" y1="501.2" x2="200.29999999999998" y2="501.2" stroke="#333" stroke-width="0.9"/>
<line x1="182.7" y1="500.4" x2="207.5" y2="500.4" stroke="#000" stroke-width="1.7"/>
<rect x="223.30" y="490.20" width="3.4" height="3.4" fill="#ff0a0a"/>
<rect x="226.30" y="489.50" width="3.4" height="3.4" fill="#ff0a0a"/>
<rect x="230.50" y="489.50" width="3.4" height="3.4" fill="#ff0a0a"/>
<rect x="237.60" y="490.50" width="3.4" height="3.4" fill="#ff0a0a"/>
<rect x="222.50" y="494.10" width="3.4" height="3.4" fill="#ff0a0a"/>
<rect x="229.30" y="492.80" width="3.4" height="3.4" fill="#ff0a0a"/>
<rect x="234.10" y="493.30" width="3.4" height="3.4" fill="#ff0a0a"/>
<rect x="241.00" y="496.10" width="3.4" height="3.4" fill="#ff0a0a"/>
<rect x="223.30" y="498.70" width="3.4" height="3.4" fill="#ff0a0a"/>
<rect x="227.90" y="497.10" width="3.4" height="3.4" fill="#ff0a0a"/>
<rect x="232.50" y="497.60" width="3.4" height="3.4" fill="#ff0a0a"/>
<rect x="236.30" y="497.60" width="3.4" height="3.4" fill="#ff0a0a"/>
<rect x="237.60" y="500.20" width="3.4" height="3.4" fill="#ff0a0a"/>
<line x1="232.7" y1="495.5" x2="232.7" y2="497.5" stroke="#333" stroke-width="0.9"/>
<line x1="227.5" y1="495.5" x2="237.89999999999998" y2="495.5" stroke="#333" stroke-width="0.9"/>
<line x1="227.5" y1="497.5" x2="237.89999999999998" y2="497.5" stroke="#333" stroke-width="0.9"/>
<line x1="220.39999999999998" y1="496.5" x2="245.0" y2="496.5" stroke="#000" stroke-width="1.7"/>
<line x1="303" y1="397.35" x2="303" y2="510.65" stroke="#000" stroke-width="1.3"/>
<line x1="298.7" y1="398" x2="303" y2="398" stroke="#000" stroke-width="1.3"/>
<text id="auto114" transform="translate(297.5 401.1)" text-anchor="end" fill="#000" style="font-size:8.6px;font-weight:bold;stroke:#000;stroke-width:0.25px;">30</text>
<line x1="298.7" y1="435.5" x2="303" y2="435.5" stroke="#000" stroke-width="1.3"/>
<text id="auto115" transform="translate(297.5 438.6)" text-anchor="end" fill="#000" style="font-size:8.6px;font-weight:bold;stroke:#000;stroke-width:0.25px;">20</text>
<line x1="298.7" y1="473" x2="303" y2="473" stroke="#000" stroke-width="1.3"/>
<text id="auto116" transform="translate(297.5 476.1)" text-anchor="end" fill="#000" style="font-size:8.6px;font-weight:bold;stroke:#000;stroke-width:0.25px;">10</text>
<line x1="298.7" y1="510" x2="303" y2="510" stroke="#000" stroke-width="1.3"/>
<text id="auto117" transform="translate(297.5 513.1)" text-anchor="end" fill="#000" style="font-size:8.6px;font-weight:bold;stroke:#000;stroke-width:0.25px;">0</text>
<line x1="303" y1="510" x2="378.8" y2="510" stroke="#000" stroke-width="1.3"/>
<line x1="321.75" y1="510" x2="321.75" y2="513.5" stroke="#000" stroke-width="1.3"/>
<line x1="359.5" y1="510" x2="359.5" y2="513.5" stroke="#000" stroke-width="1.3"/>
<text id="ml_mgmt" transform="translate(281.44 450.29) rotate(-90)" text-anchor="middle" fill="#000" style="font-size:10.17px;font-weight:bold;stroke:#000;stroke-width:0.25px;">Methylation (%)</text>
<text id="cl_mgmt_c" transform="translate(322.35 524.55)" text-anchor="middle" fill="#000" style="font-size:9.95px;font-weight:bold;stroke:#000;stroke-width:0.25px;">Ctr.</text>
<text id="cl_mgmt_s" transform="translate(359.11 524.49)" text-anchor="middle" fill="#000" style="font-size:9.95px;font-weight:bold;stroke:#000;stroke-width:0.25px;">Suppl.</text>
<path d="M321.75 479.5 V459.5 H359.5 V465.5" stroke="#222" stroke-width="1.25" fill="none" />
<text id="p_mgmt" transform="translate(341.94 453.9)" text-anchor="middle" fill="#000" style="font-size:9.9px;font-weight:normal;stroke:#000;stroke-width:0.2px;"><tspan style="font-style:italic">P</tspan>&lt;0.001</text>
<circle cx="319.2" cy="486.5" r="1.85" fill="#0a0aff"/>
<circle cx="324.6" cy="487.3" r="1.85" fill="#0a0aff"/>
<circle cx="322.3" cy="491.9" r="1.85" fill="#0a0aff"/>
<circle cx="311.1" cy="494.2" r="1.85" fill="#0a0aff"/>
<circle cx="316.6" cy="494.7" r="1.85" fill="#0a0aff"/>
<circle cx="332.6" cy="494.7" r="1.85" fill="#0a0aff"/>
<circle cx="311.1" cy="498.1" r="1.85" fill="#0a0aff"/>
<circle cx="322.3" cy="496.8" r="1.85" fill="#0a0aff"/>
<circle cx="327.4" cy="496.2" r="1.85" fill="#0a0aff"/>
<circle cx="332.6" cy="498.8" r="1.85" fill="#0a0aff"/>
<line x1="323.4" y1="492.4" x2="323.4" y2="494.6" stroke="#333" stroke-width="0.9"/>
<line x1="318.2" y1="492.4" x2="328.59999999999997" y2="492.4" stroke="#333" stroke-width="0.9"/>
<line x1="318.2" y1="494.6" x2="328.59999999999997" y2="494.6" stroke="#333" stroke-width="0.9"/>
<line x1="312.2" y1="493.5" x2="334.59999999999997" y2="493.5" stroke="#000" stroke-width="1.7"/>
<rect x="354.90" y="471.80" width="3.4" height="3.4" fill="#ff0a0a"/>
<rect x="360.10" y="471.00" width="3.4" height="3.4" fill="#ff0a0a"/>
<rect x="351.80" y="476.10" width="3.4" height="3.4" fill="#ff0a0a"/>
<rect x="357.50" y="476.70" width="3.4" height="3.4" fill="#ff0a0a"/>
<rect x="368.30" y="478.70" width="3.4" height="3.4" fill="#ff0a0a"/>
<rect x="346.80" y="481.00" width="3.4" height="3.4" fill="#ff0a0a"/>
<rect x="352.10" y="480.20" width="3.4" height="3.4" fill="#ff0a0a"/>
<rect x="357.50" y="481.80" width="3.4" height="3.4" fill="#ff0a0a"/>
<rect x="362.90" y="479.80" width="3.4" height="3.4" fill="#ff0a0a"/>
<rect x="362.90" y="483.30" width="3.4" height="3.4" fill="#ff0a0a"/>
<rect x="357.50" y="486.30" width="3.4" height="3.4" fill="#ff0a0a"/>
<rect x="357.50" y="490.20" width="3.4" height="3.4" fill="#ff0a0a"/>
<rect x="357.50" y="496.10" width="3.4" height="3.4" fill="#ff0a0a"/>
<line x1="360.7" y1="481.2" x2="360.7" y2="484.2" stroke="#333" stroke-width="0.9"/>
<line x1="355.5" y1="481.2" x2="365.9" y2="481.2" stroke="#333" stroke-width="0.9"/>
<line x1="355.5" y1="484.2" x2="365.9" y2="484.2" stroke="#333" stroke-width="0.9"/>
<line x1="349.9" y1="482.7" x2="371.5" y2="482.7" stroke="#000" stroke-width="1.7"/>
<line x1="430.6" y1="397.35" x2="430.6" y2="510.65" stroke="#000" stroke-width="1.3"/>
<line x1="426.3" y1="398" x2="430.6" y2="398" stroke="#000" stroke-width="1.3"/>
<text id="auto122" transform="translate(425.1 406.6)" text-anchor="end" fill="#000" style="font-size:8.6px;font-weight:bold;stroke:#000;stroke-width:0.25px;">30</text>
<line x1="426.3" y1="435.5" x2="430.6" y2="435.5" stroke="#000" stroke-width="1.3"/>
<text id="auto123" transform="translate(425.1 442.1)" text-anchor="end" fill="#000" style="font-size:8.6px;font-weight:bold;stroke:#000;stroke-width:0.25px;">20</text>
<line x1="426.3" y1="473" x2="430.6" y2="473" stroke="#000" stroke-width="1.3"/>
<text id="auto124" transform="translate(425.1 477.6)" text-anchor="end" fill="#000" style="font-size:8.6px;font-weight:bold;stroke:#000;stroke-width:0.25px;">10</text>
<line x1="426.3" y1="510" x2="430.6" y2="510" stroke="#000" stroke-width="1.3"/>
<text id="auto125" transform="translate(425.1 513.1)" text-anchor="end" fill="#000" style="font-size:8.6px;font-weight:bold;stroke:#000;stroke-width:0.25px;">0</text>
<line x1="430.6" y1="510" x2="505.5" y2="510" stroke="#000" stroke-width="1.3"/>
<line x1="448.75" y1="510" x2="448.75" y2="513.5" stroke="#000" stroke-width="1.3"/>
<line x1="486.25" y1="510" x2="486.25" y2="513.5" stroke="#000" stroke-width="1.3"/>
<text id="ml_p16" transform="translate(407.73 450.29) rotate(-90)" text-anchor="middle" fill="#000" style="font-size:10.17px;font-weight:bold;stroke:#000;stroke-width:0.25px;">Methylation (%)</text>
<text id="cl_p16_c" transform="translate(449.45 524.45)" text-anchor="middle" fill="#000" style="font-size:9.95px;font-weight:bold;stroke:#000;stroke-width:0.25px;">Ctr.</text>
<text id="cl_p16_s" transform="translate(486.05 524.54)" text-anchor="middle" fill="#000" style="font-size:9.95px;font-weight:bold;stroke:#000;stroke-width:0.25px;">Suppl.</text>
<path d="M448.75 432 V402.5 H486.25 V408.75" stroke="#222" stroke-width="1.25" fill="none" />
<text id="p_p16" transform="translate(466.07 398.79)" text-anchor="middle" fill="#000" style="font-size:9.9px;font-weight:normal;stroke:#000;stroke-width:0.2px;"><tspan style="font-style:italic">P</tspan>=0.03</text>
<circle cx="448.8" cy="438.8" r="1.85" fill="#0a0aff"/>
<circle cx="448.8" cy="463.1" r="1.85" fill="#0a0aff"/>
<circle cx="445.4" cy="467.3" r="1.85" fill="#0a0aff"/>
<circle cx="452.2" cy="470.2" r="1.85" fill="#0a0aff"/>
<circle cx="438.2" cy="473.3" r="1.85" fill="#0a0aff"/>
<circle cx="445.4" cy="471.3" r="1.85" fill="#0a0aff"/>
<circle cx="445.4" cy="474.7" r="1.85" fill="#0a0aff"/>
<circle cx="438.2" cy="477.6" r="1.85" fill="#0a0aff"/>
<circle cx="445.4" cy="478.4" r="1.85" fill="#0a0aff"/>
<circle cx="452.2" cy="479.6" r="1.85" fill="#0a0aff"/>
<circle cx="459.9" cy="477.9" r="1.85" fill="#0a0aff"/>
<circle cx="448.8" cy="489.5" r="1.85" fill="#0a0aff"/>
<line x1="449.2" y1="468.2" x2="449.2" y2="475" stroke="#333" stroke-width="0.9"/>
<line x1="444.5" y1="468.2" x2="453.9" y2="468.2" stroke="#333" stroke-width="0.9"/>
<line x1="444.5" y1="475" x2="453.9" y2="475" stroke="#333" stroke-width="0.9"/>
<line x1="436.8" y1="471.6" x2="461.59999999999997" y2="471.6" stroke="#000" stroke-width="1.7"/>
<rect x="484.70" y="417.00" width="3.4" height="3.4" fill="#ff0a0a"/>
<rect x="491.50" y="414.10" width="3.4" height="3.4" fill="#ff0a0a"/>
<rect x="484.70" y="430.10" width="3.4" height="3.4" fill="#ff0a0a"/>
<rect x="481.30" y="438.80" width="3.4" height="3.4" fill="#ff0a0a"/>
<rect x="487.70" y="437.10" width="3.4" height="3.4" fill="#ff0a0a"/>
<rect x="481.30" y="446.00" width="3.4" height="3.4" fill="#ff0a0a"/>
<rect x="487.70" y="443.40" width="3.4" height="3.4" fill="#ff0a0a"/>
<rect x="487.70" y="460.00" width="3.4" height="3.4" fill="#ff0a0a"/>
<rect x="481.30" y="462.70" width="3.4" height="3.4" fill="#ff0a0a"/>
<rect x="477.80" y="468.20" width="3.4" height="3.4" fill="#ff0a0a"/>
<rect x="484.70" y="471.60" width="3.4" height="3.4" fill="#ff0a0a"/>
<rect x="491.20" y="470.80" width="3.4" height="3.4" fill="#ff0a0a"/>
<rect x="484.70" y="478.40" width="3.4" height="3.4" fill="#ff0a0a"/>
<rect x="481.30" y="483.20" width="3.4" height="3.4" fill="#ff0a0a"/>
<rect x="487.70" y="482.20" width="3.4" height="3.4" fill="#ff0a0a"/>
<line x1="486.4" y1="449.4" x2="486.4" y2="461" stroke="#333" stroke-width="0.9"/>
<line x1="480.4" y1="449.4" x2="492.4" y2="449.4" stroke="#333" stroke-width="0.9"/>
<line x1="480.4" y1="461" x2="492.4" y2="461" stroke="#333" stroke-width="0.9"/>
<line x1="474.09999999999997" y1="455.4" x2="498.7" y2="455.4" stroke="#000" stroke-width="1.7"/>
</svg></body></html>
